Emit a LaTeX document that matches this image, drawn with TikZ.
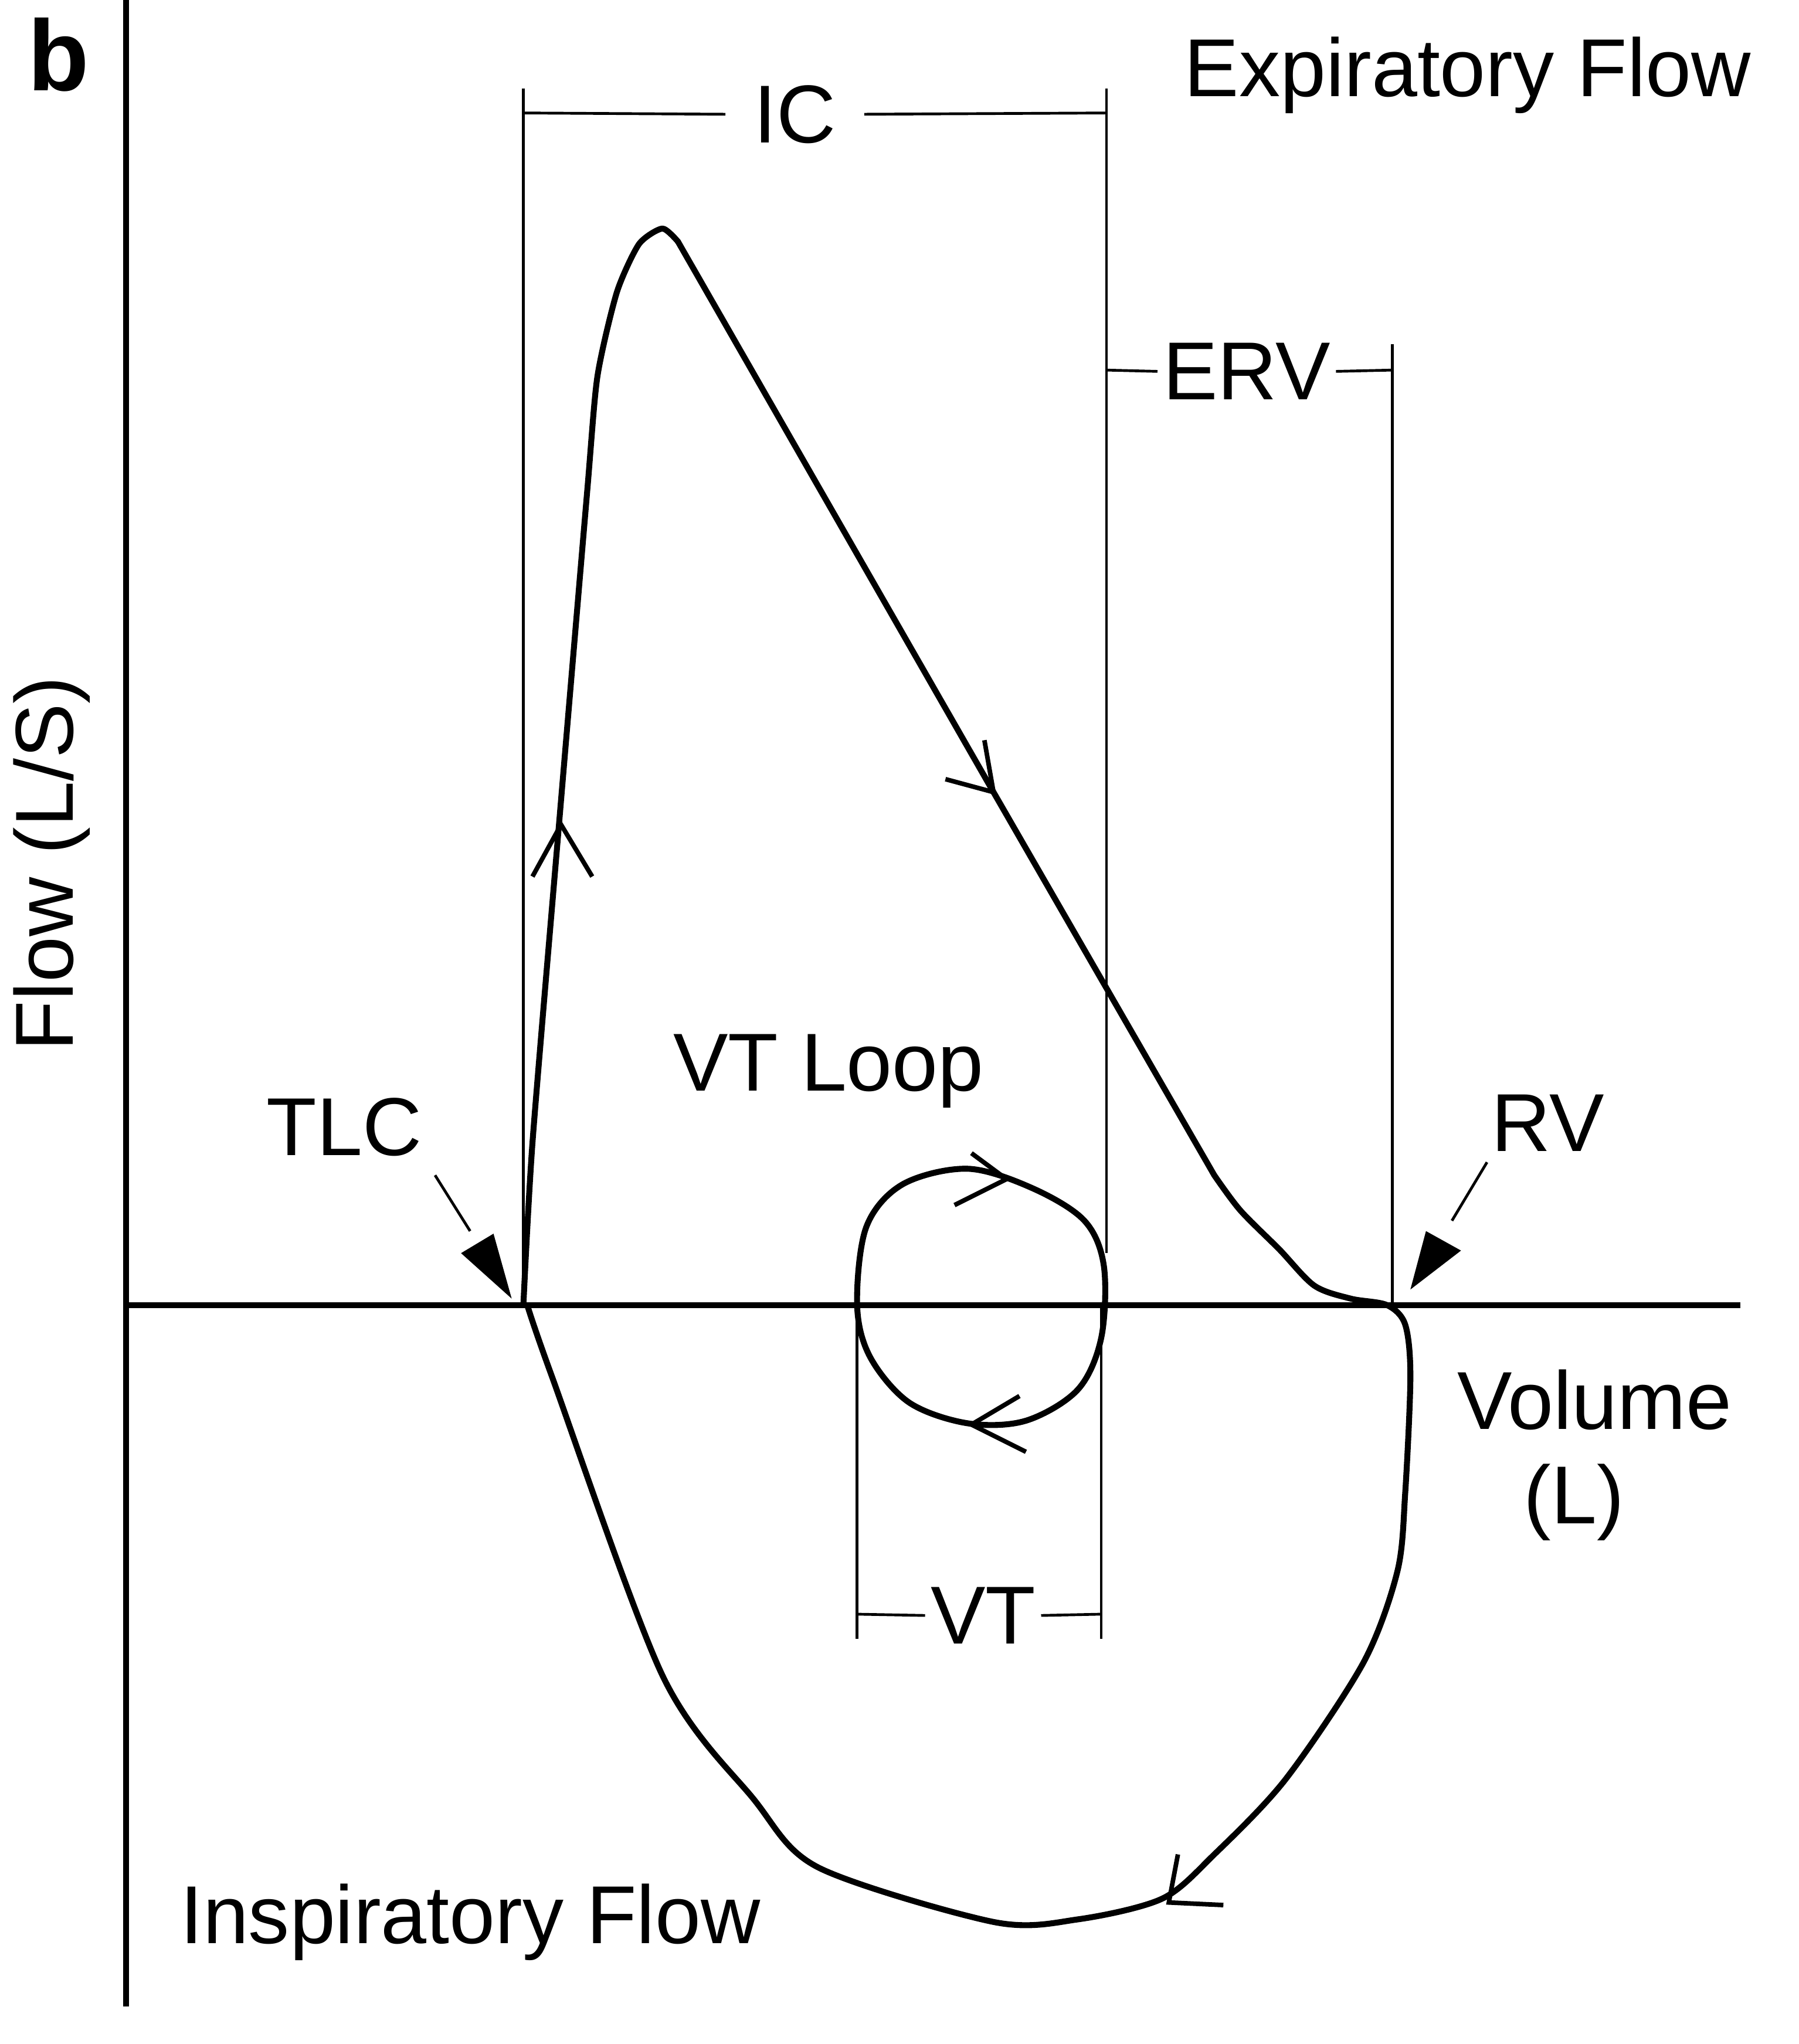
\documentclass[tikz,border=0pt]{standalone}
\usepackage{fontspec}
\setmainfont{Liberation Sans}
\begin{document}
\begin{tikzpicture}[x=0.01cm,y=-0.01cm,
  lbl/.style={font=\fontsize{18}{21}\selectfont,inner sep=1pt},
  gap/.style={inner sep=6pt},
  thin/.style={line width=0.6pt},
  curve/.style={line width=1.3pt,line join=round,line cap=round},
  chev/.style={line width=1pt,line join=miter}]
\useasboundingbox (0,0) rectangle (1385,1574);
\node[font=\fontsize{22}{24}\selectfont\bfseries] (b) at (45,42) {b};
\coordinate (yt) at (97,0); \coordinate (yb) at (97,1545);
\coordinate (xl) at (97,1005); \coordinate (xr) at (1340,1005);
\draw[line width=1.2pt] (yt) -- (yb);
\draw[line width=1.2pt] (xl) -- (xr);
\node[lbl,rotate=90] (flow) at (40,665) {Flow (L/S)};
\node[lbl] (exp) at (1130,58) {Expiratory Flow};
\node[lbl] (insp) at (362,1480) {Inspiratory Flow};
\node[lbl] (vtl) at (638,825) {VT Loop};
\node[lbl] (tlc) at (265,868) {TLC};
\node[lbl] (rv) at (1192,865) {RV};
\node[lbl] (vol) at (1228,1078) {Volume};
\node[lbl] (L) at (1212,1157) {(L)};
% IC
\node[lbl,gap] (ic) at (612,88) {IC};
\draw[thin] (403,68) -- (403,1005);
\draw[thin] (852,68) -- (852,965);
\draw[thin] (403,87) -- (ic.west);
\draw[thin] (ic.east) -- (852,87);
% ERV
\node[lbl] (erv) at (960,286) {ERV};
\draw[thin] (1072,265) -- (1072,1005);
\draw[thin] (852,285) -- (erv.west);
\draw[thin] (erv.east) -- (1072,285);
% VT
\node[lbl] (vt) at (757,1244) {VT};
\draw[thin] (660,1005) -- (660,1262);
\draw[thin] (848,1005) -- (848,1262);
\draw[thin] (660,1243) -- (vt.west);
\draw[thin] (vt.east) -- (848,1243);
% pointer arrows
\coordinate (tlcS) at (335,905);
\draw[thin] (tlcS) -- (362,948);
\fill (394,1000) -- (355,965) -- (380,950) -- cycle;
\coordinate (rvS) at (1145,895);
\draw[thin] (rvS) -- (1118,940);
\fill (1086,993) -- (1098,948) -- (1125,963) -- cycle;
% main loop
\draw[curve] plot[smooth,tension=0.4] coordinates {(403,1005) (410,880) (430,640) (452,380) (460,290) (475,225) (492,188) (510,176) (522,186)};
\draw[curve] (522,186) -- (765,610) -- (935,905);
\draw[curve] plot[smooth,tension=0.5] coordinates {(935,905) (955,932) (985,962) (1012,990) (1040,1000) (1068,1005) (1082,1020) (1086,1060) (1082,1150) (1076,1210) (1050,1280) (990,1370) (935,1428) (895,1462) (830,1478) (765,1480) (630,1438) (580,1385) (510,1290) (425,1060) (406,1005)};
\draw[chev] (410,675) -- (432,635) -- (456,675);
\draw[chev] (728,600) -- (765,610) -- (758,570);
\draw[chev] (907,1428) -- (900,1465) -- (942,1467);
% VT loop
\draw[curve] plot[smooth cycle,tension=0.55] coordinates {(660,1005) (667,945) (695,912) (745,900) (795,915) (835,940) (850,975) (848,1030) (830,1070) (790,1094) (745,1096) (700,1080) (670,1045)};
\draw[chev] (748,888) -- (775,908) -- (735,928);
\draw[chev] (785,1075) -- (748,1097) -- (790,1118);
\end{tikzpicture}
\end{document}
